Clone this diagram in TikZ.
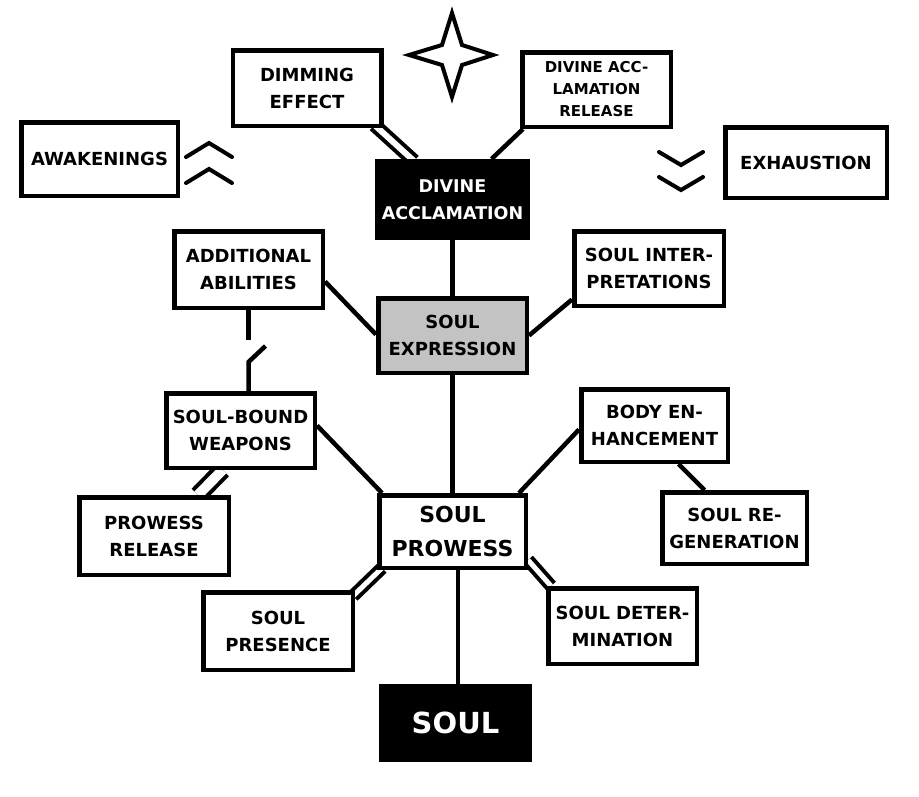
\documentclass[tikz,border=0pt]{standalone}
\usepackage{fontspec}
\setmainfont{DejaVu Sans}
\usetikzlibrary{backgrounds,calc}
\definecolor{boxgray}{HTML}{C3C3C3}
\begin{document}
\begin{tikzpicture}[x=1pt,y=-1pt,
  box/.style={draw=black, line width=4.5pt, fill=white, inner sep=0pt, align=center,
    font=\bfseries\fontsize{18}{27}\selectfont},
  blackbox/.style={box, fill=black, text=white},
  conn/.style={line width=4.5pt},
  dbl/.style={line width=4pt, double=white, double distance=6pt},
  chev/.style={line width=4pt, line cap=round, line join=miter},
]
\useasboundingbox (0,0) rectangle (919,796);

% nodes
\node[box, minimum width=148.5pt, minimum height=75.5pt] (de) at (307,88) {DIMMING\\EFFECT};
\node[box, minimum width=148.5pt, minimum height=74.5pt, font=\bfseries\fontsize{15}{22}\selectfont] (dar) at (596.5,89.5) {DIVINE ACC-\\LAMATION\\RELEASE};
\node[box, minimum width=156.5pt, minimum height=73.5pt] (aw) at (99.5,159) {AWAKENINGS};
\node[box, minimum width=161.5pt, minimum height=70.5pt] (ex) at (806,162.5) {EXHAUSTION};
\node[blackbox, minimum width=150.5pt, minimum height=76.5pt, font=\bfseries\fontsize{17.5}{27}\selectfont] (da) at (452.5,199.5) {DIVINE\\ACCLAMATION};
\node[box, minimum width=148.5pt, minimum height=76.5pt] (aa) at (248.5,269.5) {ADDITIONAL\\ABILITIES};
\node[box, minimum width=149.5pt, minimum height=74.5pt] (si) at (649,268.5) {SOUL INTER-\\PRETATIONS};
\node[box, fill=boxgray, minimum width=148.5pt, minimum height=74.5pt] (se) at (452.5,335.5) {SOUL\\EXPRESSION};
\node[box, minimum width=148.5pt, minimum height=74.5pt] (sbw) at (240.5,430.5) {SOUL-BOUND\\WEAPONS};
\node[box, minimum width=146.5pt, minimum height=72.5pt] (be) at (654.5,425.5) {BODY EN-\\HANCEMENT};
\node[box, minimum width=146.5pt, minimum height=72.5pt, font=\bfseries\fontsize{22}{34}\selectfont] (sp) at (452.5,531.5) {SOUL\\PROWESS};
\node[box, minimum width=149.5pt, minimum height=77.5pt] (pr) at (154,536) {PROWESS\\RELEASE};
\node[box, minimum width=144.5pt, minimum height=71.5pt] (sr) at (734.5,528) {SOUL RE-\\GENERATION};
\node[box, minimum width=149.5pt, minimum height=77.5pt] (spr) at (278,631) {SOUL\\PRESENCE};
\node[box, minimum width=148.5pt, minimum height=75.5pt] (sd) at (622.5,626) {SOUL DETER-\\MINATION};
\node[blackbox, minimum width=148.5pt, minimum height=73.5pt, font=\bfseries\fontsize{29}{34}\selectfont] (soul) at (455.5,723) {SOUL};

% star
\draw[line width=4pt, fill=white, line join=miter]
  (452,13) -- (462,45) -- (493,55) -- (462,65) -- (452,97) -- (442,65) -- (409,55) -- (442,45) -- cycle;

% chevrons
\draw[chev] (186,157) -- (209,143) -- (232,157);
\draw[chev] (186,183) -- (209,169) -- (232,183);
\draw[chev] (659,152) -- (681,165) -- (703,152);
\draw[chev] (659,177) -- (681,190) -- (703,177);

% connectors
\begin{scope}[on background layer]
\draw[dbl] ($(de.south east)+(-9,-3)$) -- ($(da.north)+(-38.5,2)$);
\draw[conn] ($(dar.south west)+(3,0)$) -- ($(da.north)+(39,0)$);
\draw[conn] (da.south) -- (se.north);
\draw[conn] ($(aa.east)+(0,12)$) -- ($(se.west)+(0,-1)$);
\draw[conn] (se.east) -- ($(si.west)+(0,31)$);
\draw[conn] (se.south) -- (sp.north);
\draw[conn] ($(sbw.east)+(0,-5)$) -- ($(sp.north west)+(5,0)$);
\draw[conn] (aa.south) -- ++(0,29.5);
\draw[conn] ($(aa.south)+(17,36)$) -- ++(-17,16) -- (aa.south |- sbw.north);
\draw[dbl, double distance=10pt] ($(sbw.south)+(-18,0)$) -- ($(pr.north)+(44,0)$);
\draw[dbl, double distance=5pt] ($(sp.south west)+(5,-2)$) -- ($(spr.north east)+(-2,6)$);
\draw[dbl, double distance=5pt] ($(sp.south east)+(0,-10)$) -- ($(sd.north west)+(5,0)$);
\draw[conn] ($(sp.north east)+(-9,0)$) -- ($(be.west)+(0,4)$);
\draw[conn] ($(be.south)+(24,0)$) -- ($(sr.north)+(-30,0)$);
\draw[conn] ($(sp.south)+(5.5,0)$) -- ($(soul.north)+(2.5,0)$);
\end{scope}
\end{tikzpicture}
\end{document}
